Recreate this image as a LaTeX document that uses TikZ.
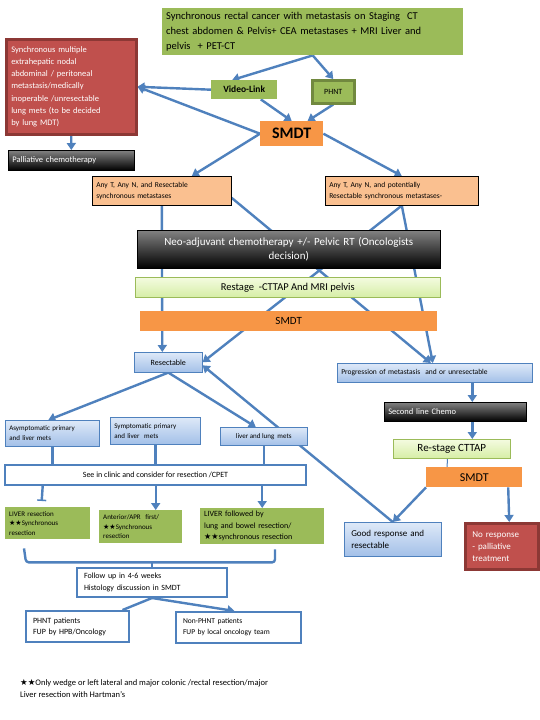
\documentclass[tikz,border=0pt]{standalone}
\usepackage{fontspec}
\setmainfont{Carlito}
\newfontfamily\symfont{DejaVu Sans}
\usepackage{tikz}
\usetikzlibrary{
  arrows.meta,
  positioning,
  calc,
  backgrounds
}
\definecolor{LinkBlue}{RGB}{79,129,189}
\definecolor{OliveGreen}{RGB}{155,187,89}
\definecolor{DarkOlive}{RGB}{113,137,63}
\definecolor{BrickRed}{RGB}{192,80,77}
\definecolor{DarkBrick}{RGB}{140,56,53}
\definecolor{SmdtOrange}{RGB}{247,150,70}
\definecolor{PeachFill}{RGB}{250,192,144}
\definecolor{PaleBlueTop}{RGB}{222,233,248}
\definecolor{PaleBlueBot}{RGB}{163,192,232}
\definecolor{LimeTop}{RGB}{244,251,224}
\definecolor{LimeBot}{RGB}{214,238,166}
\definecolor{GreyTop}{RGB}{130,130,130}
\newcommand{\dstar}{{\symfont ★★}}
\newcommand{\setfs}[2]{\fontsize{#1}{#2}\selectfont}
\pgfdeclarelayer{lines}
\pgfsetlayers{background,lines,main}
\tikzset{
  box/.style={rectangle,anchor=north west,inner xsep=4pt,inner ysep=1pt},
  greenbox/.style={box,fill=OliveGreen,align=left},
  phntbox/.style={box,fill=OliveGreen,draw=DarkOlive,line width=2.5pt,align=center},
  redbox/.style={box,fill=BrickRed,draw=DarkBrick,line width=2.5pt,text=white,align=left},
  smdtbox/.style={box,fill=SmdtOrange,align=center},
  peachbox/.style={box,fill=PeachFill,draw=black,line width=0.6pt,align=left},
  darkbox/.style={box,top color=GreyTop,bottom color=black,draw=black,line width=0.6pt,text=white},
  bluebox/.style={box,top color=PaleBlueTop,bottom color=PaleBlueBot,draw=LinkBlue,line width=0.6pt},
  limebox/.style={box,top color=LimeTop,bottom color=LimeBot,draw=OliveGreen,line width=0.6pt,align=center},
  whitebox/.style={box,fill=white,draw=LinkBlue,line width=2pt,align=left},
  flow/.style={-{Triangle[length=7pt,width=9pt]},line width=2.4pt,draw=LinkBlue},
  link/.style={line width=2.4pt,draw=LinkBlue},
  barflow/.style={-{Bar[width=9pt,line width=1.5pt]},line width=2.4pt,draw=LinkBlue}
}
\begin{document}
\begin{tikzpicture}[x=1pt,y=-1pt]
\useasboundingbox (0,0) rectangle (540,720);
\begin{pgfonlayer}{background}
\fill[white] (0,0) rectangle (540,720);
\end{pgfonlayer}
\node[greenbox,minimum width=301pt,minimum height=47pt,text width=293pt,font=\setfs{10.5}{14.5}] (scan) at (162,8) {Synchronous rectal cancer with metastasis on Staging\ \ CT\\chest abdomen \& Pelvis+ CEA metastases + MRI Liver and\\pelvis\ \ + PET-CT};
\node[redbox,minimum width=130pt,minimum height=95pt,text width=120pt,font=\setfs{8.5}{12.3}] (redmets) at (5,38) {Synchronous multiple\\extrahepatic nodal\\abdominal / peritoneal\\metastasis/medically\\inoperable /unresectable\\lung mets (to be decided\\by lung MDT)};
\node[greenbox,align=center,minimum width=66pt,minimum height=19pt,font=\setfs{9.5}{11}\bfseries] (videolink) at (211,80) {Video-Link};
\node[phntbox,minimum width=42pt,minimum height=23pt,font=\setfs{8}{10}] (phnt) at (311,79) {PHNT};
\node[smdtbox,minimum width=63pt,minimum height=25pt,font=\setfs{16}{18}\bfseries] (smdta) at (260,121) {SMDT};
\node[darkbox,align=left,minimum width=126pt,minimum height=20pt,text width=118pt,font=\setfs{8.5}{10}] (palliative) at (8,150) {Palliative chemotherapy};
\node[peachbox,minimum width=139pt,minimum height=29pt,text width=131pt,font=\setfs{7.5}{11}] (anyres) at (92,176) {Any T, Any N, and Resectable\\synchronous metastases};
\node[peachbox,minimum width=153pt,minimum height=29pt,text width=145pt,font=\setfs{7.5}{11}] (anypot) at (325,176) {Any T, Any N, and potentially\\Resectable synchronous metastases-};
\node[darkbox,align=center,minimum width=303pt,minimum height=38pt,text width=295pt,font=\setfs{11}{14}] (neoadj) at (137,230) {Neo-adjuvant chemotherapy +/- Pelvic RT (Oncologists\\decision)};
\node[limebox,minimum width=305pt,minimum height=20pt,font=\setfs{10.5}{12}] (restage) at (135,277) {Restage\ \ -CTTAP And MRI pelvis};
\node[smdtbox,minimum width=297pt,minimum height=20pt,font=\setfs{11}{12}] (smdtb) at (140,311) {SMDT};
\node[bluebox,align=center,minimum width=68pt,minimum height=20pt,font=\setfs{8}{10}] (resectable) at (134,352) {Resectable};
\node[bluebox,align=left,minimum width=195pt,minimum height=19pt,text width=187pt,font=\setfs{7.5}{10}] (progression) at (337,363) {Progression of metastasis\ \ and or unresectable};
\node[darkbox,align=left,minimum width=142pt,minimum height=19pt,text width=134pt,font=\setfs{8.5}{10}] (secondline) at (384,402) {Second line Chemo};
\node[limebox,minimum width=117pt,minimum height=19pt,font=\setfs{11}{12}] (restagect) at (393,439) {Re-stage CTTAP};
\node[smdtbox,minimum width=96pt,minimum height=20pt,font=\setfs{12}{13}] (smdtc) at (426,467) {SMDT};
\node[bluebox,align=left,minimum width=94pt,minimum height=26pt,text width=86pt,font=\setfs{7}{10}] (asym) at (5,420) {Asymptomatic primary\\and liver mets};
\node[bluebox,align=left,minimum width=90pt,minimum height=27pt,text width=82pt,font=\setfs{7}{10}] (sympt) at (110,417) {Symptomatic primary\\and liver\ \ mets};
\node[bluebox,align=center,minimum width=87pt,minimum height=18pt,font=\setfs{7}{10}] (livlung) at (220,427) {liver and lung\ \ mets};
\node[whitebox,align=center,minimum width=301pt,minimum height=20pt,font=\setfs{8}{10}] (clinic) at (4,464) {See in clinic and consider for resection /CPET};
\node[greenbox,minimum width=85pt,minimum height=32pt,text width=77pt,font=\setfs{7}{9.5}] (livres) at (5,507) {LIVER resection\\\dstar Synchronous\\resection};
\node[greenbox,minimum width=83pt,minimum height=33pt,text width=75pt,font=\setfs{7}{9.5}] (antapr) at (99,510) {Anterior/APR\ \ first/\\\dstar Synchronous\\resection};
\node[greenbox,minimum width=124pt,minimum height=36pt,text width=116pt,font=\setfs{8}{11.5}] (livfol) at (200,508) {LIVER followed by\\lung and bowel resection/\\\dstar synchronous resection};
\node[bluebox,align=left,inner xsep=7pt,minimum width=97pt,minimum height=34pt,text width=83pt,font=\setfs{9}{12}] (goodresp) at (344,522) {Good response and\\resectable};
\node[redbox,inner xsep=7pt,minimum width=73pt,minimum height=46pt,text width=59pt,font=\setfs{9}{12}] (noresp) at (464,522) {No response\\- palliative\\treatment};
\node[whitebox,inner xsep=7pt,minimum width=150pt,minimum height=29pt,text width=136pt,font=\setfs{8}{12}] (followup) at (76,567) {Follow up in 4-6 weeks\\Histology discussion in SMDT};
\node[whitebox,inner xsep=7pt,minimum width=103pt,minimum height=31pt,text width=89pt,font=\setfs{8}{11}] (phntpat) at (25,610) {PHNT patients\\FUP by HPB/Oncology};
\node[whitebox,inner xsep=7pt,minimum width=125pt,minimum height=31pt,text width=111pt,font=\setfs{7.5}{11}] (nonphnt) at (175,611) {Non-PHNT patients\\FUP by local oncology team};
\node[anchor=north west,align=left,inner sep=0pt,font=\setfs{8.5}{12}] (footnote) at (20,679) {\dstar Only wedge or left lateral and major colonic /rectal resection/major\\Liver resection with Hartman's};
\begin{pgfonlayer}{lines}
\draw[flow] (scan.south) -- ([xshift=-12pt]videolink.north);
\draw[flow] (scan.south) -- (phnt.north);
\draw[flow] (videolink.west) -- (redmets.east);
\draw[flow] (smdta.west) -- (redmets.east);
\draw[flow] ($(videolink.south)!0.5!(videolink.south east)$) -- (smdta.north);
\draw[flow] (phnt.south) -- ($(smdta.north)!0.5!(smdta.north east)$);
\draw[flow] (redmets.south) -- (palliative.north);
\draw[flow] (smdta.west) -- ([xshift=30pt]anyres.north);
\draw[flow] (smdta.east) -- (anypot.north);
\draw[flow] (anyres.south) -- ([xshift=-6pt]resectable.north);
\draw[flow] ([yshift=-7pt]anyres.east) -- ([xshift=-4pt]progression.north);
\draw[flow] (anypot.south) -- (resectable.east);
\draw[flow] (anypot.south) -- ([xshift=-2pt]progression.north);
\draw[flow] (resectable.south) -- ([xshift=-4pt]asym.north);
\draw[flow] (resectable.south) -- ([xshift=-8pt]livlung.north);
\draw[flow] (goodresp.north) -- ([yshift=-3pt]resectable.east);
\draw[flow] (smdtc.south west) -- (goodresp.north);
\draw[flow] ([xshift=34pt]smdtc.south) -- ([xshift=7.5pt]noresp.north);
\draw[flow] ([xshift=37.5pt]progression.south) -- ([xshift=17pt]secondline.north);
\draw[flow] ([xshift=17pt]secondline.south) -- ([xshift=20.5pt]restagect.north);
\draw[line width=1pt,draw=LinkBlue] ([xshift=-4.5pt]restagect.south) -- ([xshift=-27pt]smdtc.north);
\draw[link] (asym.south) -- (asym.south |- clinic.north);
\draw[link] (sympt.south) -- (sympt.south |- clinic.north);
\draw[link] (livlung.south) -- (livlung.south |- clinic.north);
\draw[barflow] ($(clinic.south -| livres.north)+(-5,0)$) -- ($(livres.north)+(-6,-6)$);
\draw[flow] ($(clinic.south -| antapr.north)+(15,0)$) -- ($(antapr.north)+(15,0)$);
\draw[flow] (clinic.south -| livfol.north) -- (livfol.north);
\draw[link,rounded corners=3pt] ($(livres.south west)+(19,9)$) -- ($(livres.south west)+(21,23)$) -- ($(livfol.south west)+(75,18)$) -- ($(livfol.south west)+(75,5)$);
\draw[link] (followup.north) -- ++(0,-6);
\draw[link] (followup.south) -- ([xshift=45pt]phntpat.north);
\draw[flow] (followup.south) -- ([xshift=-4pt]nonphnt.north);
\end{pgfonlayer}
\end{tikzpicture}
\end{document}
